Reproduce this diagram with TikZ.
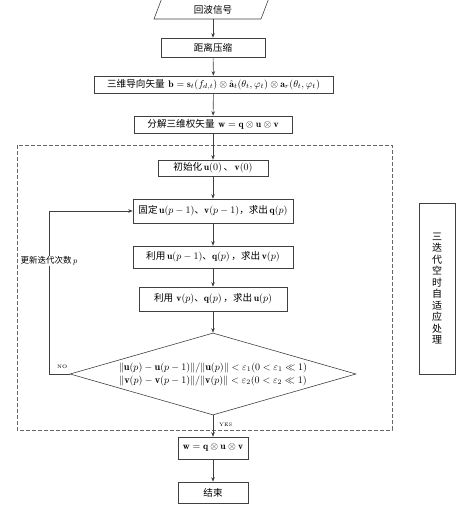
\documentclass[tikz,border=0pt]{standalone}
\usepackage{amsmath}
\usepackage{fontspec}
\newfontfamily\cjk{Noto Sans CJK SC}
\usetikzlibrary{shapes.geometric,arrows.meta}
\tikzset{
  ln/.style={draw=black!75, line width=0.6pt},
  box/.style={ln, rectangle, inner sep=0pt, align=center, font=\cjk\fontsize{9.6}{11}\selectfont},
  arr/.style={ln, -{Stealth[length=4.5pt,width=3.5pt]}},
  small/.style={font=\fontsize{5}{6}\selectfont, inner sep=0pt}
}
\begin{document}
\begin{tikzpicture}[x=1pt,y=-1pt]
\useasboundingbox (0,0) rectangle (474,508);
% input parallelogram
\draw[ln] (154,19) -- (261,19) -- (272,-10) -- (165,-10) -- cycle;
\node[box, draw=none, minimum width=100, minimum height=18] (in) at (213,10) {回波信号};
\node[box, minimum width=104, minimum height=19] (dist) at (213,47.5) {距离压缩};
\node[box, minimum width=239, minimum height=17] (steer) at (213.5,84.5)
  {三维导向矢量\, $\mathbf{b}=\mathbf{s}_t(f_{d,t})\otimes\hat{\mathbf{a}}_t(\theta_t,\varphi_t)\otimes\mathbf{a}_r(\theta_t,\varphi_t)$};
\node[box, minimum width=158, minimum height=17] (dec) at (213,124.5)
  {分解三维权矢量\, $\mathbf{w}=\mathbf{q}\otimes\mathbf{u}\otimes\mathbf{v}$};
% dashed frame
\draw[ln, dashed, dash pattern=on 4pt off 2pt, draw=black!60] (17,145) rectangle (392,430);
\node[box, minimum width=110, minimum height=16] (init) at (213,168)
  {初始化\,$\mathbf{u}(0)$\,、\,$\mathbf{v}(0)$};
\node[box, minimum width=160, minimum height=24] (fix) at (213,211)
  {固定\,$\mathbf{u}(p-1)$、$\mathbf{v}(p-1)$，求出\,$\mathbf{q}(p)$};
\node[box, minimum width=160, minimum height=22] (upv) at (213,257)
  {利用\,$\mathbf{u}(p-1)$、$\mathbf{q}(p)$\,，求出\,$\mathbf{v}(p)$};
\node[box, minimum width=148, minimum height=24] (upu) at (213,299)
  {利用\,\,$\mathbf{v}(p)$、$\mathbf{q}(p)$\,，求出\,$\mathbf{u}(p)$};
\node[ln, diamond, minimum width=286, minimum height=82, inner sep=0pt, aspect=3.5] (dia) at (213,374) {};
\node[inner sep=0pt, align=center, font=\fontsize{10.2}{13}\selectfont] (cond) at (213,374)
  {$\|\mathbf{u}(p)-\mathbf{u}(p-1)\|/\|\mathbf{u}(p)\|<\varepsilon_1(0<\varepsilon_1\ll 1)$\\
   $\|\mathbf{v}(p)-\mathbf{v}(p-1)\|/\|\mathbf{v}(p)\|<\varepsilon_2(0<\varepsilon_2\ll 1)$};
\node[box, minimum width=70, minimum height=22] (res) at (213,448)
  {$\mathbf{w}=\mathbf{q}\otimes\mathbf{u}\otimes\mathbf{v}$};
\node[box, minimum width=70, minimum height=21] (end) at (213,492.5) {结束};
% side box
\node[box, minimum width=36, minimum height=171, font=\cjk\fontsize{10}{11.5}\selectfont] (side) at (437,288.5)
  {三\\迭\\代\\空\\时\\自\\适\\应\\处\\理};
% connectors
\draw[arr] (in.south) -- (dist.north);
\draw[arr] (dist) -- (steer);
\draw[arr] (steer) -- (dec);
\draw[arr] (dec) -- (init);
\draw[arr] (init) -- (fix);
\draw[arr] (fix) -- (upv);
\draw[arr] (upv) -- (upu);
\draw[arr] (upu) -- (dia.north);
\draw[arr] (dia.south) -- (res.north);
\draw[arr] (res) -- (end);
\coordinate (lp) at (49,374);
\draw[arr] (dia.west) -- (lp) |- (fix.west);
% labels
\node[anchor=west, inner sep=0.5pt, fill=white, font=\cjk\fontsize{8.5}{10}\selectfont] (upd) at (20,261) {更新迭代次数\,$p$};
\node[small, anchor=west] (no) at (57,367) {NO};
\node[small, anchor=west] (yes) at (219,425) {YES};
\end{tikzpicture}
\end{document}
